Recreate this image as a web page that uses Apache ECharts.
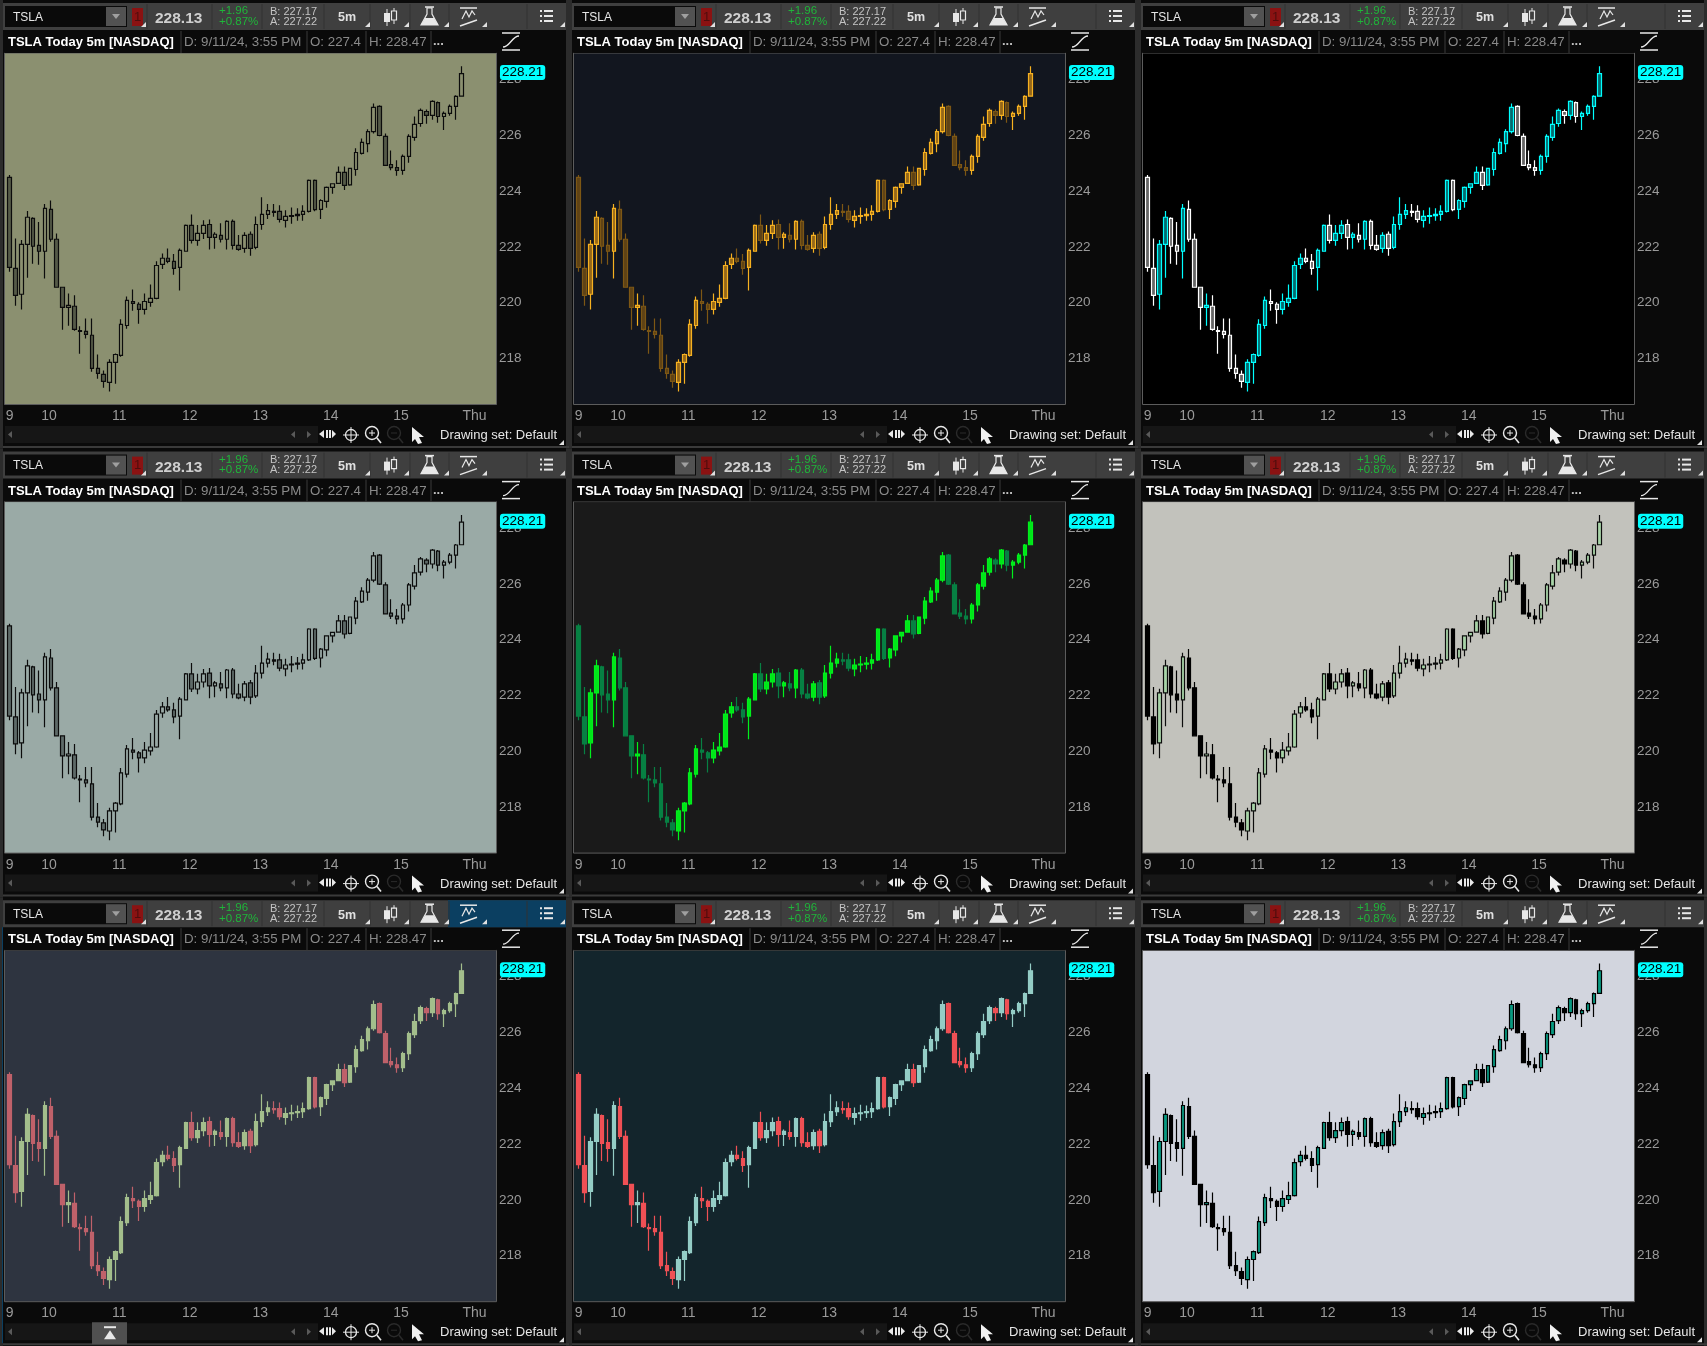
<!DOCTYPE html>
<html>
<head>
<meta charset="utf-8">
<title>TSLA Today 5m</title>
<style>
  html, body { margin: 0; padding: 0; background: #0a0a0a; }
  #chart { width: 1707px; height: 1346px; }
</style>
<script src="https://cdn.jsdelivr.net/npm/echarts@6/dist/echarts.min.js"></script>
</head>
<body>
<div id="chart"></div>
<script>
// Regular session bars for TSLA on 9/11/24, then the empty slots to the right of the last bar.
const sessionTimes = [
  '9:30','9:35','9:40','9:45','9:50','9:55','10:00','10:05','10:10','10:15','10:20','10:25',
  '10:30','10:35','10:40','10:45','10:50','10:55','11:00','11:05','11:10','11:15','11:20','11:25',
  '11:30','11:35','11:40','11:45','11:50','11:55','12:00','12:05','12:10','12:15','12:20','12:25',
  '12:30','12:35','12:40','12:45','12:50','12:55','13:00','13:05','13:10','13:15','13:20','13:25',
  '13:30','13:35','13:40','13:45','13:50','13:55','14:00','14:05','14:10','14:15','14:20','14:25',
  '14:30','14:35','14:40','14:45','14:50','14:55','15:00','15:05','15:10','15:15','15:20','15:25',
  '15:30','15:35','15:40','15:45','15:50','15:55'
];
const nextSessionSlots = ['Thu', 'Thu+5', 'Thu+10', 'Thu+15', 'Thu+20'];
const opens = [
  224.49,221.23,220.30,222.09,223.02,222.05,221.84,223.34,222.27,220.55,219.83,219.87,
  219.00,218.97,218.83,217.64,217.43,217.14,217.86,218.11,219.18,220.04,219.94,219.76,
  220.01,220.15,221.37,221.59,221.48,221.26,221.84,222.77,222.23,222.48,222.80,222.34,
  222.41,222.27,222.91,222.05,221.94,222.45,221.98,222.80,223.16,223.27,223.27,222.95,
  223.09,223.12,223.16,223.27,224.38,223.34,223.63,224.13,224.27,224.67,224.22,224.77,
  225.35,225.70,226.13,227.03,225.96,224.95,224.84,224.74,225.24,225.92,226.42,226.85,
  226.71,227.17,226.67,226.78,227.03,227.40
];
const closes = [
  221.26,220.26,222.09,223.06,222.02,221.84,223.38,222.27,220.55,219.83,219.90,219.04,
  218.97,218.86,217.64,217.46,217.18,217.86,218.14,219.22,220.08,219.97,219.76,220.04,
  220.15,221.33,221.59,221.48,221.23,221.87,222.77,222.23,222.48,222.77,222.34,222.45,
  222.27,222.91,222.05,221.91,222.41,221.94,222.80,223.16,223.30,223.23,222.98,223.09,
  223.12,223.16,223.27,224.38,223.33,223.66,224.13,224.26,224.67,224.20,224.81,225.38,
  225.74,226.13,227.00,225.99,224.92,224.84,224.74,225.24,225.96,226.39,226.89,226.71,
  227.21,226.67,226.78,227.03,227.39,228.21
];
const lows = [
  221.11,219.89,219.75,220.89,221.39,221.36,220.86,222.18,220.55,219.03,219.17,218.99,
  218.17,218.71,217.52,217.27,216.95,216.81,217.09,218.06,219.06,219.71,219.24,219.57,
  219.85,220.12,221.20,221.41,221.00,220.43,221.84,222.12,222.04,222.28,221.90,221.93,
  222.15,221.90,221.90,221.86,221.79,221.68,221.91,222.61,223.00,223.08,222.87,222.69,
  222.83,222.93,222.93,223.23,223.27,223.00,223.40,223.90,224.27,224.04,224.19,224.55,
  225.31,225.39,226.06,225.96,224.92,224.74,224.55,224.58,225.01,225.80,226.30,226.41,
  226.55,226.45,226.19,226.70,226.55,227.40
];
const highs = [
  224.57,222.30,222.24,223.28,223.06,222.89,223.53,223.66,222.48,220.55,220.33,220.26,
  219.15,219.43,219.43,218.14,217.57,217.97,218.18,219.40,220.22,220.47,220.01,220.33,
  220.65,221.48,221.76,221.94,221.74,221.94,222.80,223.16,222.78,222.95,222.98,222.52,
  222.84,222.95,222.98,222.42,222.52,222.55,223.09,223.78,223.53,223.53,223.49,223.31,
  223.41,223.38,223.49,224.41,224.41,223.70,224.16,224.27,224.88,224.88,224.81,225.53,
  225.88,226.21,227.14,227.07,226.06,225.45,225.10,225.31,226.03,226.67,226.96,226.92,
  227.25,227.21,226.85,227.10,227.43,228.47
];
const hourTickSlots = ['9:30','10:00','11:00','12:00','13:00','14:00','15:00','Thu'];
const hourTickLabels = ['9','10','11','12','13','14','15','Thu'];
const quoteLast = '228.13';
const quoteChange = ['+1.96', '+0.87%'];
const quoteBidAsk = ['B: 227.17', 'A: 227.22'];
const headerCells = ['TSLA Today 5m [NASDAQ]', 'D: 9/11/24, 3:55 PM', 'O: 227.4', 'H: 228.47', '...'];

// One colour scheme per chart, left to right and top to bottom.
const schemes = [
  { bg: '#8b9070', upFill: '#8b9070', upLine: '#0c0c0c', downFill: '#555a48', downLine: '#0c0c0c' },
  { bg: '#12161f', upFill: '#94671a', upLine: '#f6b120', downFill: '#5e4216', downLine: '#7d5714' },
  { bg: '#000000', upFill: '#056a6e', upLine: '#00ffff', downFill: '#666666', downLine: '#ffffff' },
  { bg: '#9aaaa6', upFill: '#9aaaa6', upLine: '#0c0c0c', downFill: '#5e6a68', downLine: '#0c0c0c' },
  { bg: '#1a1a1a', upFill: '#00e619', upLine: '#00f01c', downFill: '#078043', downLine: '#078043' },
  { bg: '#c2c2bc', upFill: '#a8d4a8', upLine: '#0c0c0c', downFill: '#000000', downLine: '#000000' },
  { bg: '#2e3440', upFill: '#a3be8c', upLine: '#a3be8c', downFill: '#bf616a', downLine: '#bf616a' },
  { bg: '#13252c', upFill: '#94cdc6', upLine: '#94cdc6', downFill: '#ef5055', downLine: '#ef5055' },
  { bg: '#d2d5de', upFill: '#089981', upLine: '#000000', downFill: '#000000', downLine: '#000000' }
];

const FONT = '"Liberation Sans", Arial, sans-serif';
const COL_STEP = 569, ROW_STEP = 448.6;
const categories = sessionTimes.concat(nextSessionSlots);
const candles = sessionTimes.map((t, i) => [opens[i], closes[i], lows[i], highs[i]]);

// Price axis spans whole units so the even ticks land on round values.
const PRICE_MIN = 216, PRICE_MAX = 229;

const chart = echarts.init(document.getElementById('chart'));
const elements = [];

function add(el, z) { el.silent = true; el.z = z === undefined ? -1 : z; elements.push(el); }
function box(x, y, w, h, fill, z) { add({ type: 'rect', shape: { x, y, width: w, height: h }, style: { fill } }, z); }
function seg(x1, y1, x2, y2, stroke, lineWidth, z) {
  add({ type: 'line', shape: { x1, y1, x2, y2 }, style: { stroke, lineWidth: lineWidth || 1 } }, z);
}
function poly(points, fill, z) { add({ type: 'polygon', shape: { points }, style: { fill } }, z); }
function ring(cx, cy, r, stroke, lineWidth) {
  add({ type: 'circle', shape: { cx, cy, r }, style: { fill: 'none', stroke, lineWidth: lineWidth || 1.5 } });
}
function label(x, y, text, size, fill, weight, align) {
  add({ type: 'text', x, y, style: {
    text, fill, align: align || 'left', verticalAlign: 'middle',
    font: (weight || 'normal') + ' ' + size + 'px ' + FONT
  } });
}

// Toolbar, legend strip, scale gutter and footer around one chart.
function drawFrame(col, row, scheme) {
  const X = col * COL_STEP, Y = row * ROW_STEP;
  const active = col === 0 && row === 2;
  const corner = (x, y) => poly([[X + x, Y + y], [X + x + 5, Y + y], [X + x + 5, Y + y - 5]], '#e0e0e0');

  box(X + 497, Y + 31, 69, 394, '#0a0a0a');
  // plot backdrop and its border
  box(X + 4.5, Y + 53, 492, 351.5, scheme.bg);
  add({ type: 'rect', shape: { x: X + 4.5, y: Y + 53, width: 492, height: 351.5 },
        style: { fill: 'none', stroke: '#5c5c5c', lineWidth: 1 } });

  // top toolbar
  box(X + 3, Y + 3, 563, 27, '#3f3f3f');
  if (active) box(X + 448, Y + 3, 118, 27, '#0b3f61');
  box(X + 5, Y + 6, 122, 21, '#0a0a0a');
  box(X + 106, Y + 7, 20, 19, '#525252');
  poly([[X + 112, Y + 14], [X + 120, Y + 14], [X + 116, Y + 19]], '#a0a0a0');
  label(X + 13, Y + 17.5, 'TSLA', 12, '#e6e6e6');
  box(X + 132, Y + 8, 11, 18, '#8a1212');
  label(X + 137.5, Y + 17, '1', 13, '#4f0d0d', 'normal', 'center');
  corner(141, 27);
  label(X + 155, Y + 19, quoteLast, 15.5, '#cfcfcf', 'bold');
  label(X + 219, Y + 11, quoteChange[0], 11.5, '#1fb53a');
  label(X + 219, Y + 21.5, quoteChange[1], 11.5, '#1fb53a');
  label(X + 270, Y + 11.5, quoteBidAsk[0], 11, '#c4c4c4');
  label(X + 270, Y + 21.5, quoteBidAsk[1], 11, '#c4c4c4');
  label(X + 338, Y + 18, '5m', 12.5, '#e0e0e0', 'bold');
  [147, 212, 262, 324, 370, 410, 449, 527].forEach(x => seg(X + x, Y + 4, X + x, Y + 29, '#323232'));
  [365, 404, 444, 482, 560].forEach(x => corner(x, 27));

  // candle style button
  seg(X + 387, Y + 9, X + 387, Y + 26, '#e8e8e8', 1);
  box(X + 384, Y + 13, 6, 9, '#e8e8e8');
  seg(X + 394, Y + 8, X + 394, Y + 24, '#e8e8e8', 1);
  add({ type: 'rect', shape: { x: X + 391.5, y: Y + 11, width: 5, height: 9 }, style: { fill: '#3f3f3f', stroke: '#e8e8e8', lineWidth: 1.2 } });
  // studies flask
  seg(X + 425, Y + 7, X + 434, Y + 7, '#e8e8e8', 1.5);
  add({ type: 'polygon', shape: { points: [[X + 427, Y + 8], [X + 432, Y + 8], [X + 432, Y + 14], [X + 438, Y + 25], [X + 421, Y + 25], [X + 427, Y + 14]] },
        style: { fill: '#3f3f3f', stroke: '#e8e8e8', lineWidth: 1.2 } });
  poly([[X + 425, Y + 18], [X + 434, Y + 18], [X + 438, Y + 25], [X + 421, Y + 25]], '#e8e8e8');
  // drawing tools
  seg(X + 460, Y + 8, X + 477, Y + 8, '#e8e8e8', 1.5);
  add({ type: 'polyline', shape: { points: [[X + 462, Y + 19], [X + 466, Y + 11], [X + 469, Y + 17], [X + 472, Y + 11], [X + 475, Y + 15]] },
        style: { fill: 'none', stroke: '#e8e8e8', lineWidth: 1.2 } });
  seg(X + 460, Y + 26, X + 477, Y + 20, '#e8e8e8', 1.5);
  // chart menu
  [11, 16, 21].forEach(dy => {
    box(X + 540, Y + dy - 1, 2, 2, '#e8e8e8');
    box(X + 544, Y + dy - 1, 9, 2, '#e8e8e8');
  });

  // legend strip
  box(X + 4.5, Y + 31, 492, 22, '#0a0a0a');
  [181, 307, 366, 431].forEach(x => seg(X + x, Y + 31, X + x, Y + 53, '#3a3a3a'));
  label(X + 8, Y + 42.5, headerCells[0], 13, '#ffffff', 'bold');
  label(X + 184, Y + 42.5, headerCells[1], 13.3, '#8a8a8a');
  label(X + 310, Y + 42.5, headerCells[2], 13.3, '#8a8a8a');
  label(X + 369, Y + 42.5, headerCells[3], 13.3, '#8a8a8a');
  label(X + 433, Y + 41.5, headerCells[4], 13, '#c0c0c0', 'bold');

  // price scale toggle
  seg(X + 502, Y + 33, X + 520, Y + 33, '#e8e8e8', 1.5);
  seg(X + 502, Y + 50, X + 520, Y + 50, '#e8e8e8', 1.5);
  add({ type: 'bezierCurve', shape: { x1: X + 503, y1: Y + 47, x2: X + 519, y2: Y + 36, cpx1: X + 510, cpy1: Y + 47, cpx2: X + 512, cpy2: Y + 36 },
        style: { fill: 'none', stroke: '#e8e8e8', lineWidth: 1.3 } });

  // footer
  box(X + 5, Y + 426, 313, 17, '#161616');
  poly([[X + 8, Y + 434.5], [X + 12, Y + 431], [X + 12, Y + 438]], '#5a5a5a');
  poly([[X + 291, Y + 434.5], [X + 295, Y + 431], [X + 295, Y + 438]], '#5a5a5a');
  poly([[X + 311, Y + 434.5], [X + 307, Y + 431], [X + 307, Y + 438]], '#5a5a5a');
  poly([[X + 319, Y + 434], [X + 324, Y + 430], [X + 324, Y + 438]], '#e8e8e8');
  box(X + 326, Y + 430, 2, 8, '#e8e8e8');
  box(X + 329, Y + 430, 2, 8, '#e8e8e8');
  poly([[X + 336, Y + 434], [X + 332, Y + 430], [X + 332, Y + 438]], '#e8e8e8');
  ring(X + 351, Y + 435, 5.5, '#e8e8e8', 1.3);
  seg(X + 343, Y + 435, X + 359, Y + 435, '#e8e8e8');
  seg(X + 351, Y + 427, X + 351, Y + 443, '#e8e8e8');
  ring(X + 372, Y + 433, 6.5, '#e8e8e8', 1.4);
  seg(X + 377, Y + 438, X + 381, Y + 443, '#e8e8e8', 1.6);
  seg(X + 369, Y + 433, X + 375, Y + 433, '#e8e8e8');
  seg(X + 372, Y + 430, X + 372, Y + 436, '#e8e8e8');
  ring(X + 394, Y + 433, 6.5, '#2a2a2a', 1.4);
  seg(X + 399, Y + 438, X + 403, Y + 443, '#2a2a2a', 1.6);
  seg(X + 391, Y + 433, X + 397, Y + 433, '#2a2a2a');
  poly([[X + 412, Y + 427], [X + 424, Y + 437], [X + 419, Y + 437], [X + 422, Y + 443], [X + 418, Y + 444], [X + 415, Y + 439], [X + 412, Y + 442]], '#f0f0f0');
  label(X + 440, Y + 435.5, 'Drawing set: Default', 13, '#e6e6e6');
  corner(559, 445);

  // dividers between charts
  box(X + 566, Y, 3, ROW_STEP, '#2c2c2c');
  box(X, Y + 446, COL_STEP, 2, '#3a3a3a');
  box(X, Y, 3, ROW_STEP, '#2c2c2c');
  if (active) {
    seg(X + 2.5, Y + 30, X + 2.5, Y + 446, '#0b3f61', 1);
    box(X + 92, Y + 425, 35, 22, '#505050');
    poly([[X + 110, Y + 433], [X + 104, Y + 442], [X + 116, Y + 442]], '#e8e8e8');
    box(X + 104, Y + 429, 12, 2, '#e8e8e8');
  }
}

const grids = [], xAxes = [], yAxes = [], series = [];
schemes.forEach((scheme, k) => {
  const col = k % 3, row = Math.floor(k / 3);
  drawFrame(col, row, scheme);
  grids.push({
    left: col * COL_STEP + 6.77,
    top: row * ROW_STEP + 51.5,
    width: 487.2,
    height: 362.7
  });
  xAxes.push({
    gridIndex: k,
    type: 'category',
    data: categories,
    boundaryGap: true,
    axisLine: { show: false },
    axisTick: { show: false },
    splitLine: { show: false },
    axisPointer: { show: false },
    axisLabel: {
      margin: -5,
      interval: (i, value) => hourTickSlots.includes(value),
      formatter: value => {
        const text = hourTickLabels[hourTickSlots.indexOf(value)];
        if (text === '9') return '{first|' + text + '}';
        return (text === 'Thu' ? '{next|' : '{hour|') + text + '}';
      },
      rich: {
        first: { color: '#9a9a9a', fontSize: 14, fontFamily: FONT },
        hour: { color: '#9a9a9a', fontSize: 14, fontFamily: FONT, padding: [0, 0, 0, 8] },
        next: { color: '#9a9a9a', fontSize: 14, fontFamily: FONT, padding: [0, 0, 0, 14] }
      }
    }
  });
  yAxes.push({
    gridIndex: k,
    type: 'value',
    position: 'right',
    min: PRICE_MIN,
    max: PRICE_MAX,
    interval: 2,
    axisLine: { show: false },
    axisTick: { show: false },
    splitLine: { show: false },
    axisLabel: {
      margin: 5,
      color: '#9a9a9a',
      fontSize: 13.5,
      fontFamily: FONT,
      showMinLabel: false,
      showMaxLabel: false
    }
  });
  series.push({
    type: 'candlestick',
    xAxisIndex: k,
    yAxisIndex: k,
    data: candles,
    barWidth: 4,
    clip: false,
    silent: true,
    animation: false,
    itemStyle: {
      color: scheme.upFill,
      color0: scheme.downFill,
      borderColor: scheme.upLine,
      borderColor0: scheme.downLine,
      borderWidth: 1.2
    },
    // last trade price flag in the scale gutter
    markLine: {
      silent: true,
      animation: false,
      symbol: ['none', 'none'],
      lineStyle: { color: 'rgba(0,0,0,0)', width: 0, opacity: 1 },
      data: [{ yAxis: closes[closes.length - 1] }],
      label: {
        show: true,
        position: 'end',
        distance: 6,
        offset: [0, -1],
        opacity: 1,
        formatter: () => closes[closes.length - 1].toFixed(2),
        color: '#000000',
        backgroundColor: '#00ffff',
        borderRadius: 3,
        padding: [1, 2, 0, 2],
        fontSize: 13.5,
        fontFamily: FONT
      }
    }
  });
});

chart.setOption({
  animation: false,
  backgroundColor: '#0a0a0a',
  tooltip: { show: false },
  grid: grids,
  xAxis: xAxes,
  yAxis: yAxes,
  series: series,
  graphic: { elements: elements }
});
</script>
</body>
</html>
